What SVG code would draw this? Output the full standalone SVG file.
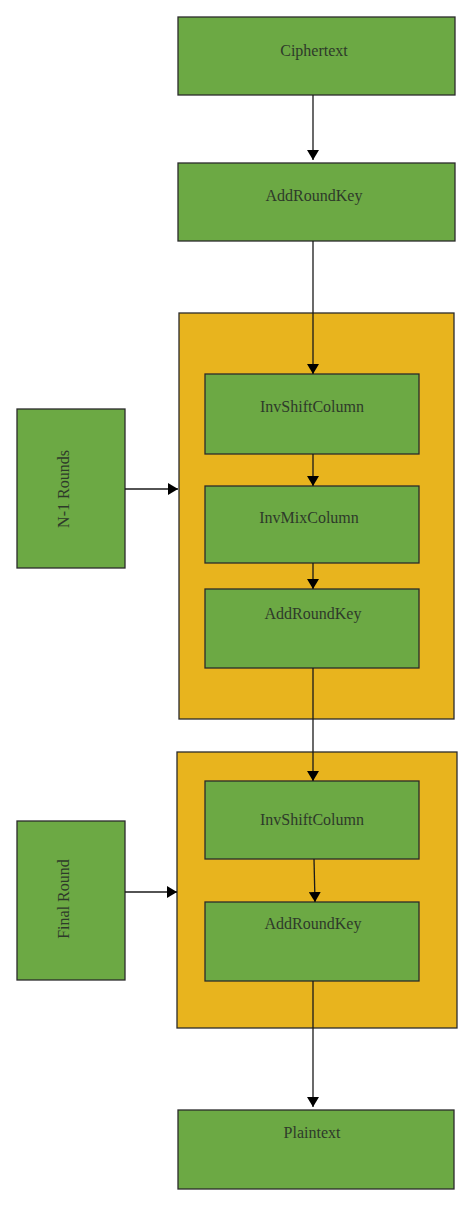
<svg xmlns="http://www.w3.org/2000/svg" width="474" height="1206" viewBox="0 0 474 1206">
<defs>
<marker id="ah" viewBox="0 0 10 12" refX="10" refY="6" markerWidth="10" markerHeight="12" markerUnits="userSpaceOnUse" orient="auto">
<path d="M0,0 L10,6 L0,12 z" fill="#000"/>
</marker>
<style>
.g{fill:#6ca944;stroke:#2b2b2b;stroke-width:1.3}
.o{fill:#e8b41e;stroke:#2b2b2b;stroke-width:1.3}
.t{font-family:"Liberation Serif",serif;font-size:16px;fill:#2e3a2a;text-anchor:middle}
.c{stroke:#1a1a1a;stroke-width:1.3;fill:none;marker-end:url(#ah)}
</style>
</defs>
<rect width="474" height="1206" fill="#fff"/>
<g id="round1"><rect class="o" x="179" y="313" width="275" height="406"/></g>
<g id="round2"><rect class="o" x="177" y="752" width="280" height="276"/></g>
<g id="ciphertext"><rect class="g" x="178" y="17" width="277" height="78"/><text class="t" x="314" y="56">Ciphertext</text></g>
<g id="addroundkey0"><rect class="g" x="178" y="163" width="277" height="78"/><text class="t" x="314" y="201">AddRoundKey</text></g>
<g id="nrounds"><rect class="g" x="17" y="409" width="108" height="159"/><text class="t" transform="translate(69,489) rotate(-90)">N-1 Rounds</text></g>
<g id="invshift1"><rect class="g" x="205" y="374" width="214" height="80"/><text class="t" x="312" y="412">InvShiftColumn</text></g>
<g id="invmix"><rect class="g" x="205" y="486" width="214" height="77"/><text class="t" x="309" y="523">InvMixColumn</text></g>
<g id="addroundkey1"><rect class="g" x="205" y="589" width="214" height="79"/><text class="t" x="313" y="619">AddRoundKey</text></g>
<g id="finalround"><rect class="g" x="17" y="821" width="108" height="159"/><text class="t" transform="translate(69,899) rotate(-90)">Final Round</text></g>
<g id="invshift2"><rect class="g" x="205" y="781" width="214" height="78"/><text class="t" x="312" y="825">InvShiftColumn</text></g>
<g id="addroundkey2"><rect class="g" x="205" y="902" width="214" height="79"/><text class="t" x="313" y="929">AddRoundKey</text></g>
<g id="plaintext"><rect class="g" x="178" y="1110" width="276" height="79"/><text class="t" x="312" y="1138">Plaintext</text></g>
<g id="connectors">
<path class="c" d="M313,95 L313,160"/>
<path class="c" d="M313,241 L313,374"/>
<path class="c" d="M313,454 L313,486"/>
<path class="c" d="M313,563 L313,589"/>
<path class="c" d="M313,668 L313,781"/>
<path class="c" d="M314,859 L315,902"/>
<path class="c" d="M313,981 L313,1107"/>
<path class="c" d="M125,489 L178,489"/>
<path class="c" d="M125,892 L177,892"/>
</g>
</svg>
